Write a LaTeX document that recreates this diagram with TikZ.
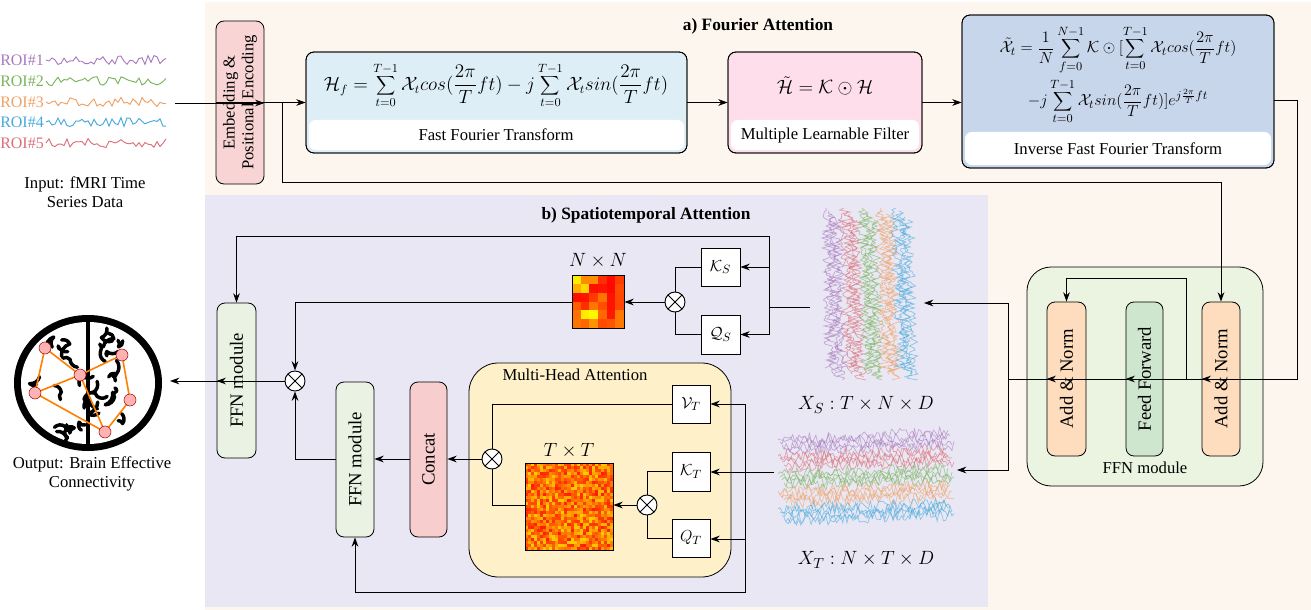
\documentclass[tikz,border=0pt]{standalone}
\usepackage{fontspec}
\setmainfont{Liberation Serif}
\usetikzlibrary{arrows.meta,calc}
\definecolor{peach}{RGB}{253,246,238}
\definecolor{lav}{RGB}{232,231,243}
\definecolor{fftb}{RGB}{222,238,247}
\definecolor{filtp}{RGB}{253,222,234}
\definecolor{ifftb}{RGB}{200,214,236}
\definecolor{embp}{RGB}{248,212,212}
\definecolor{anp}{RGB}{253,221,189}
\definecolor{ffg}{RGB}{205,230,205}
\definecolor{grpg}{RGB}{235,244,225}
\definecolor{ffng}{RGB}{234,243,227}
\definecolor{catp}{RGB}{248,205,205}
\definecolor{mhay}{RGB}{254,240,200}
\definecolor{cpur}{RGB}{170,120,190}
\definecolor{cgrn}{RGB}{120,180,90}
\definecolor{corg}{RGB}{240,160,100}
\definecolor{ccyn}{RGB}{70,170,220}
\definecolor{cred}{RGB}{220,110,120}
\newcommand\bx[7]{\node[#6, minimum width={(#4-#2)*0.75pt}, minimum height={(#5-#3)*0.75pt}, inner sep=0pt] (#1) at ({(#2+#4)/2},{(#3+#5)/2}) {#7};}
\newcommand\vbx[7]{\node[#6, rotate=90, minimum height={(#4-#2)*0.75pt}, minimum width={(#5-#3)*0.75pt}, inner sep=0pt] (#1) at ({(#2+#4)/2},{(#3+#5)/2}) {#7};}
\tikzset{
  box/.style={draw, rounded corners=6pt, line width=0.6pt},
  sq/.style={draw, fill=white, line width=0.6pt, font=\fontsize{13}{15}\selectfont},
  arr/.style={-{Stealth[length=7pt,width=5pt]}, line width=0.7pt},
  ln/.style={line width=0.7pt},
  ot/.style={draw, fill=white, circle, minimum size=15pt, inner sep=0pt, line width=0.7pt,
    path picture={\draw[line width=0.7pt] (path picture bounding box.north west)--(path picture bounding box.south east) (path picture bounding box.north east)--(path picture bounding box.south west);}},
  lab/.style={font=\fontsize{12.5}{14}\selectfont},
  ttl/.style={font=\bfseries\fontsize{13}{15}\selectfont},
  mlab/.style={font=\fontsize{14}{16}\selectfont},
}
\begin{document}
\begin{tikzpicture}[x=0.75pt,y=-0.75pt]
\useasboundingbox (0,0) rectangle (1311,610);
\fill[peach] (205,2) rectangle (1311,610);
\fill[lav] (205,195) rectangle (988,607);
% ROI inputs
\pgfmathsetseed{7}
\foreach \c/\t/\yy in {cpur/1/60,cgrn/2/81,corg/3/102,ccyn/4/122,cred/5/143}{
  \node[text=\c, font=\fontsize{12}{13}\selectfont, anchor=west, inner sep=0pt] (roi\t) at (0,\yy) {ROI\#\t};
  \draw[\c, line width=0.7pt] (46,\yy) \foreach \i in {1,...,40}{ -- ({46+\i*3},{\yy+4.5*rand})};
}
\node[lab, align=center] (inlab) at (85,192) {Input: fMRI Time\\Series Data};
\coordinate (inp) at (175,103);
% Fourier part
\node[ttl] (ta) at (758,26) {a) Fourier Attention};
\vbx{emb}{216}{21}{264}{184}{box, fill=embp, align=center, lab}{Embedding \&\\Positional Encoding}
\bx{fft}{306}{52}{687}{153}{box, fill=fftb}{}
\bx{fftw}{309}{120}{684}{150}{fill=white, rounded corners=5pt}{}
\node[box] at (fft) [minimum width={381*0.75pt}, minimum height={101*0.75pt}] {};
\node[font=\fontsize{13.5}{16}\selectfont] (fftf) at (496,85) {$\displaystyle \mathcal{H}_f=\sum_{t=0}^{T-1}\mathcal{X}_t cos(\frac{2\pi}{T}ft)-j\sum_{t=0}^{T-1}\mathcal{X}_t sin(\frac{2\pi}{T}ft)$};
\node[lab] (fftl) at (496,135) {Fast Fourier Transform};
\bx{filt}{728}{52}{922}{153}{box, fill=filtp}{}
\bx{filtw}{731}{120}{919}{150}{fill=white, rounded corners=5pt}{}
\node[box] at (filt) [minimum width={194*0.75pt}, minimum height={101*0.75pt}] {};
\node[font=\fontsize{15}{17}\selectfont] (filtf) at (825,86) {$\tilde{\mathcal{H}}=\mathcal{K}\odot\mathcal{H}$};
\node[lab] (filtl) at (825,135) {Multiple Learnable Filter};
\bx{ifft}{962}{15}{1274}{168}{box, fill=ifftb}{}
\bx{ifftw}{965}{132}{1271}{165}{fill=white, rounded corners=5pt}{}
\node[box] at (ifft) [minimum width={312*0.75pt}, minimum height={153*0.75pt}] {};
\node[font=\fontsize{12.5}{14}\selectfont, align=center, inner sep=0pt] (ifftf) at (1118,75) {$\displaystyle \tilde{\mathcal{X}}_t=\frac{1}{N}\sum_{f=0}^{N-1}\mathcal{K}\odot[\sum_{t=0}^{T-1}\mathcal{X}_t cos(\frac{2\pi}{T}ft)$\\[3pt]$\displaystyle -j\sum_{t=0}^{T-1}\mathcal{X}_t sin(\frac{2\pi}{T}ft)]e^{j\frac{2\pi}{T}ft}$};
\node[lab] (ifftl) at (1118,149) {Inverse Fast Fourier Transform};
% FFN group right
\bx{grp}{1027}{267}{1263}{486}{box, fill=grpg, rounded corners=18pt}{}
\node[lab] (grpl) at (1145,468) {FFN module};
\vbx{anL}{1047}{302}{1086}{456}{box, fill=anp, mlab}{Add \& Norm}
\vbx{ff}{1126}{302}{1163}{456}{box, fill=ffg, mlab}{Feed Forward}
\vbx{anR}{1202}{302}{1240}{456}{box, fill=anp, mlab}{Add \& Norm}
% spatiotemporal
\node[ttl] (tb) at (646,215) {b) Spatiotemporal Attention};
\vbx{ffnA}{217}{303}{256}{458}{box, fill=ffng, mlab}{FFN module}
\vbx{ffnB}{336}{382}{374}{537}{box, fill=ffng, mlab}{FFN module}
\vbx{cat}{410}{382}{447}{537}{box, fill=catp, mlab}{Concat}
\bx{mha}{469}{363}{731}{577}{box, fill=mhay, rounded corners=22pt}{}
\node[lab] (mhal) at (575,375) {Multi-Head Attention};
\bx{ks}{701}{248}{740}{286}{sq}{$\mathcal{K}_S$}
\bx{qs}{701}{315}{740}{354}{sq}{$\mathcal{Q}_S$}
\bx{vt}{672}{385}{710}{423}{sq}{$\mathcal{V}_T$}
\bx{kt}{672}{452}{710}{491}{sq}{$\mathcal{K}_T$}
\bx{qt}{672}{519}{710}{557}{sq}{$Q_T$}
\node[ot] (ot1) at (675,302) {};
\node[ot] (ot2) at (295,381) {};
\node[ot] (ot3) at (647,505) {};
\node[ot] (ot4) at (492,459) {};
% NxN matrix
\pgfmathsetseed{3}
\foreach \i in {0,...,5}{\foreach \j in {0,...,5}{
  \pgfmathsetmacro\r{int(rnd*100)}
  \fill[red!\r!yellow] ({572+\i*52/6},{275+\j*53/6}) rectangle ++(52/6,53/6);}}
\bx{nn}{572}{275}{624}{328}{draw, line width=0.6pt}{}
\node[font=\fontsize{14}{16}\selectfont] (nnl) at (598,261) {$N\times N$};
% TxT matrix
\foreach \i in {0,...,28}{\foreach \j in {0,...,28}{
  \pgfmathsetmacro\r{int(20+rnd*70)}
  \fill[red!\r!yellow] ({525+\i*88/29},{463+\j*87/29}) rectangle ++(88/29,87/29);}}
\bx{tt}{525}{463}{613}{550}{draw, line width=0.6pt}{}
\node[font=\fontsize{14}{16}\selectfont] (ttl) at (569,451) {$T\times T$};
% X_S and X_T
\bx{xs}{815}{205}{920}{380}{}{}
\bx{xt}{775}{430}{950}{532}{}{}
\begin{scope}[opacity=0.6, line width=0.5pt]
\pgfmathsetseed{11}
\foreach \c/\x in {cpur/832,cred/850,cgrn/868,corg/886,ccyn/902}{
  \foreach \k in {0,...,4}{
    \draw[\c] ({\x+\k*3-6},{208+\k*3}) \foreach \i in {1,...,80}{ -- ({\x+\k*3-6+(\i*0.06)+6*rand},{208+\k*3+\i*2})};
}}
\foreach \c/\y in {cpur/445,cred/462,cgrn/480,corg/497,ccyn/515}{
  \foreach \k in {0,...,4}{
    \draw[\c] ({778+\k*2},{\y+\k*3-6}) \foreach \i in {1,...,80}{ -- ({778+\k*2+\i*2.1},{\y+\k*3-6-\i*0.08+6*rand})};
}}
\end{scope}
\node[font=\fontsize{15}{17}\selectfont] (xsl) at (866,405) {$X_S:T\times N\times D$};
\node[font=\fontsize{15}{17}\selectfont] (xtl) at (866,560) {$X_T:N\times T\times D$};
% brain
\begin{scope}
\fill[black] (88,383) ellipse [x radius=74, y radius=68];
\fill[white] (88,383) ellipse [x radius=67, y radius=61];
\pgfmathsetseed{5}
\foreach \k in {1,...,26}{
  \pgfmathsetmacro\ax{30+rnd*115}\pgfmathsetmacro\ay{333+rnd*100}
  \draw[line width=2.6pt, line cap=round, line join=round] (\ax,\ay) to[bend left=40] ++({rand*14},{rand*14}) to[bend right=40] ++({rand*12},{rand*12});
}
\draw[line width=3pt] (88,318) -- (88,450);
\coordinate (bn1) at (45,348); \coordinate (bn2) at (122,355); \coordinate (bn3) at (35,393);
\coordinate (bn4) at (80,375); \coordinate (bn5) at (105,432); \coordinate (bn6) at (130,400);
\draw[orange, line width=1.2pt] (bn1)--(bn4)--(bn2)--(bn6)--(bn5)--(bn3)--(bn1) (bn4)--(bn3) (bn4)--(bn5);
\foreach \p in {bn1,bn2,bn3,bn4,bn5,bn6}{\fill[red!30, draw=red!60!black] (\p) circle (6);}
\end{scope}
\coordinate (brain) at (170,381);
\node[lab, align=center] (outl) at (92,474) {Output: Brain Effective\\Connectivity};
% connectors top
\draw[arr] (inp) -- (emb.south |- inp);
\draw[arr] (emb.north |- fft.west) -- (fft.west);
\draw[arr] (fft.east) -- (filt.west);
\draw[arr] (filt.east) -- (ifft.west |- filt.east);
\coordinate (sk) at (282,102.5);
\draw[arr] (sk) -- (282,182) -| (anR.east);
\coordinate (ir) at (1297,100);
\draw[arr] (ifft.east |- ir) -- (ir) |- (anR.north);
% FFN group connectors
\draw[arr] (anR.south) -- (ff.north);
\draw[arr] (ff.south) -- (anL.north);
\coordinate (sk2) at (1186,379);
\draw[arr] (sk2) -- (1186,278) -| (anL.east);
\coordinate (br) at (1008,379);
\draw[ln] (anL.south) -- (br);
\draw[arr] (br) |- (924,303);
\draw[arr] (br) |- (957,470);
% spatial branch
\coordinate (bs) at (769,307);
\draw[ln] (810,307) -- (bs);
\draw[arr] (bs) |- (ks.east);
\draw[arr] (bs) |- (qs.east);
\draw[arr] (bs) -- (769,236) -| (ffnA.east);
\draw[ln] (ks.west) -| (ot1.north);
\draw[ln] (qs.west) -| (ot1.south);
\draw[arr] (ot1.west) -- (nn.east |- ot1.west);
\draw[arr] (nn.west |- ot1.west) -| (ot2.north);
\draw[arr] (ot2.west) -- (ffnA.north |- ot2.west);
\draw[arr] (ffnA.south |- brain) -- (brain);
\draw[arr] (ffnB.north |- 0,459) -| (ot2.south);
% temporal branch
\coordinate (bt) at (745,472);
\draw[ln] (774,472) -- (bt);
\draw[arr] (745,404) -- (vt.east |- 0,404);
\draw[arr] (bt) -- (kt.east |- bt);
\draw[arr] (745,539) -- (qt.east |- 0,539);
\draw[arr] (745,404) -- (745,592) -| (ffnB.west);
\draw[ln] (kt.west) -| (ot3.north);
\draw[ln] (qt.west) -| (ot3.south);
\draw[arr] (ot3.west) -- (tt.east |- ot3.west);
\draw[ln] (vt.west) -| (ot4.north);
\draw[ln] (tt.west |- ot3.west) -| (ot4.south);
\draw[arr] (ot4.west) -- (cat.south |- ot4.west);
\draw[arr] (cat.north |- ot4.west) -- (ffnB.south |- ot4.west);
\end{tikzpicture}
\end{document}
